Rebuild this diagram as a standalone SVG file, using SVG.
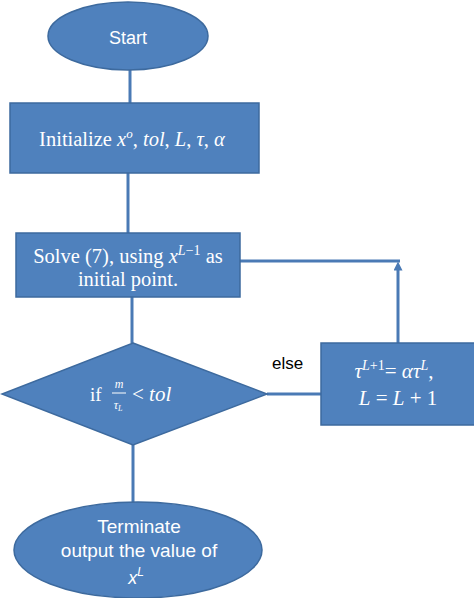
<svg xmlns="http://www.w3.org/2000/svg" width="474" height="598" viewBox="0 0 474 598">
<style>
.node{fill:#4f81bd;stroke:#3d6a9e;stroke-width:1.5}
.conn{stroke:#4a7ab5;stroke-width:3;fill:none}
.sans{font-family:"Liberation Sans","DejaVu Sans",sans-serif;fill:#ffffff}
.serif{font-family:"Liberation Serif","DejaVu Serif",serif;fill:#ffffff}
.it{font-style:italic}
</style>
<defs>
<marker id="arr" viewBox="0 0 10 10" refX="5" refY="5" markerWidth="3" markerHeight="3" orient="auto">
<path d="M0,0 L10,5 L0,10 z" fill="#4a7ab5"/>
</marker>
</defs>
<rect width="474" height="598" fill="#ffffff"/>
<g id="connectors">
<line class="conn" x1="130" y1="70" x2="130" y2="103"/>
<line class="conn" x1="128" y1="173" x2="128" y2="233"/>
<line class="conn" x1="132" y1="297" x2="132" y2="343"/>
<line class="conn" x1="267" y1="394" x2="321" y2="394"/>
<line class="conn" x1="133" y1="445" x2="133" y2="502"/>
<polyline class="conn" points="240,261 400,261"/>
<line class="conn" x1="398" y1="343" x2="398" y2="266" stroke-width="4" marker-end="url(#arr)"/>
<text x="272" y="369" font-family="Liberation Sans,DejaVu Sans,sans-serif" font-size="17" fill="#000000">else</text>
</g>
<g id="start">
<ellipse class="node" cx="128" cy="36" rx="80" ry="34"/>
<text class="sans" x="128" y="44" font-size="18" text-anchor="middle">Start</text>
</g>
<g id="init">
<rect class="node" x="10" y="103" width="249" height="70"/>
<text class="serif" x="132" y="146" font-size="20.5" text-anchor="middle">Initialize <tspan class="it">x</tspan><tspan class="it" font-size="13" dy="-8">o</tspan><tspan dy="8">, </tspan><tspan class="it">tol</tspan>, <tspan class="it">L</tspan>, <tspan class="it">τ</tspan>, <tspan class="it">α</tspan></text>
</g>
<g id="solve">
<rect class="node" x="16" y="233" width="224" height="64"/>
<text class="serif" x="128" y="263" font-size="20.5" text-anchor="middle">Solve (7), using <tspan class="it">x</tspan><tspan class="it" font-size="14" dy="-8">L</tspan><tspan font-size="14">−1</tspan><tspan dy="8"> as</tspan></text>
<text class="serif" x="128" y="286" font-size="20.5" text-anchor="middle">initial point.</text>
</g>
<g id="decision">
<polygon class="node" points="133,343 267,394 133,445 2,394"/>
<text class="serif" x="90" y="401" font-size="19">if</text>
<text class="serif it" x="119" y="388" font-size="12" text-anchor="middle">m</text>
<line x1="112" y1="393" x2="126" y2="393" stroke="#ffffff" stroke-width="1"/>
<text class="serif it" x="118" y="409" font-size="12" text-anchor="middle">τ<tspan font-size="8" dy="2">L</tspan></text>
<text class="serif" x="132" y="401" font-size="21">&lt; <tspan class="it">tol</tspan></text>
</g>
<g id="update">
<rect class="node" x="321" y="343" width="160" height="82"/>
<text class="serif" x="394" y="378" font-size="21" text-anchor="middle"><tspan class="it">τ</tspan><tspan class="it" font-size="14" dy="-8">L</tspan><tspan font-size="14">+1</tspan><tspan dy="8">= </tspan><tspan class="it">ατ</tspan><tspan class="it" font-size="14" dy="-8">L</tspan><tspan dy="8">,</tspan></text>
<text class="serif" x="398" y="405" font-size="21" text-anchor="middle"><tspan class="it">L</tspan> = <tspan class="it">L</tspan> + 1</text>
</g>
<g id="terminate">
<ellipse class="node" cx="138" cy="550" rx="124" ry="48"/>
<text class="sans" x="139" y="533" font-size="19" text-anchor="middle">Terminate</text>
<text class="sans" x="139" y="557" font-size="19" text-anchor="middle">output the value of</text>
<text class="sans it" x="136" y="584" font-size="18" text-anchor="middle">x<tspan font-size="12" dy="-8">L</tspan></text>
</g>
</svg>
